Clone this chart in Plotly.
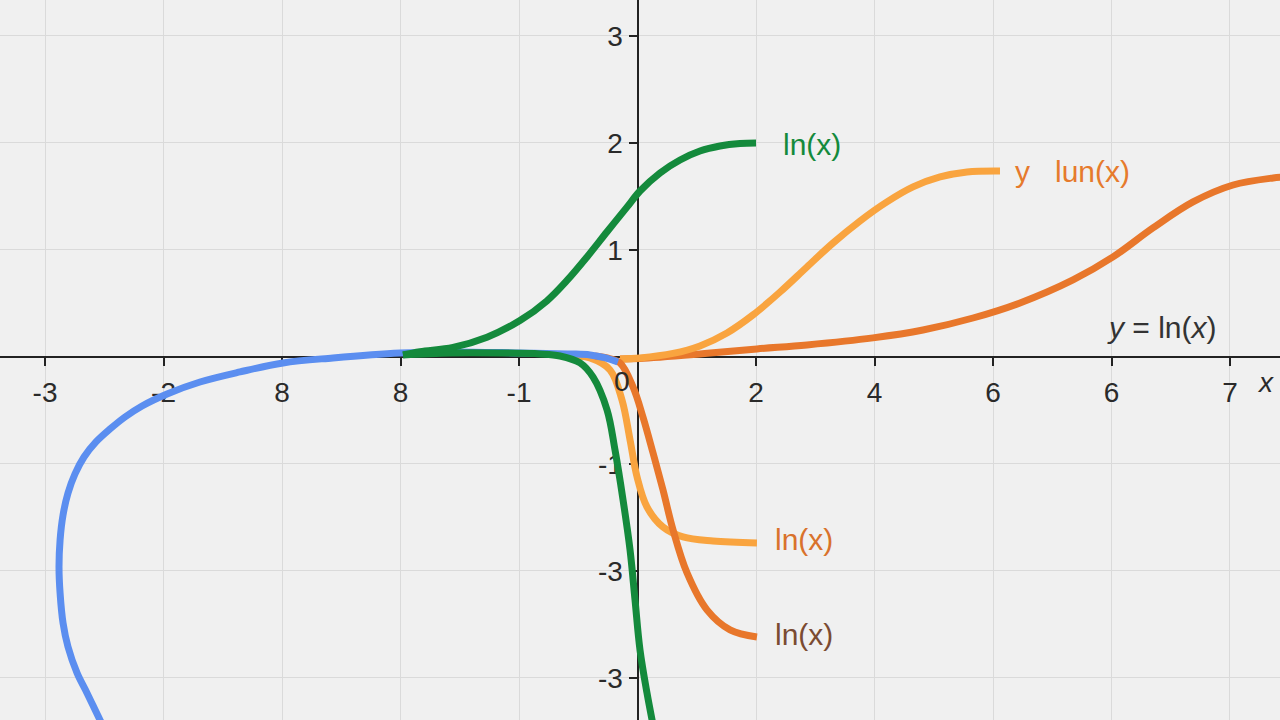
import plotly.graph_objects as go

# ----------------------------
# Curve data (grid units: one grid cell = 1)
# ----------------------------
blue_x = [-4.50, -4.536, -4.646, -4.73, -4.806, -4.848, -4.873, -4.882, -4.873, -4.848, -4.806,
          -4.747, -4.671, -4.57, -4.451, -4.325, -4.181, -3.97, -3.692, -3.354, -2.992,
          -2.57, -2.004, -1.58, -0.99, -0.57, -0.40, -0.27, -0.165]
blue_y = [-3.467, -3.393, -3.14, -2.953, -2.71, -2.486, -2.206, -1.963, -1.71, -1.477, -1.271,
          -1.093, -0.935, -0.794, -0.673, -0.561, -0.458, -0.346, -0.234, -0.14, -0.056,
          -0.009, 0.037, 0.047, 0.037, 0.028, 0.019, -0.009, -0.047]

green_up_x = [-1.979, -1.835, -1.557, -1.27, -0.992, -0.764, -0.595, -0.426, -0.257, -0.089,
              0.021, 0.19, 0.359, 0.527, 0.696, 0.865, 1.0]
green_up_y = [0.019, 0.05, 0.09, 0.185, 0.34, 0.525, 0.715, 0.935, 1.17, 1.40,
              1.551, 1.72, 1.841, 1.925, 1.972, 1.995, 2.0]

green_low_x = [-1.979, -1.582, -1.16, -0.823, -0.654, -0.485, -0.376, -0.257, -0.19, -0.122,
               -0.063, -0.021, 0.021, 0.08, 0.131]
green_low_y = [0.019, 0.037, 0.037, 0.028, 0.009, -0.056, -0.187, -0.495, -0.869, -1.336,
               -1.804, -2.271, -2.738, -3.14, -3.439]

lorange_low_x = [-0.654, -0.527, -0.401, -0.232, -0.131, -0.063, -0.004, 0.08, 0.215, 0.384, 0.637, 1.008]
lorange_low_y = [0.019, 0.009, -0.009, -0.121, -0.402, -0.776, -1.121, -1.402, -1.589, -1.682, -1.72, -1.738]

dorange_low_x = [-0.359, -0.257, -0.148, -0.038, 0.046, 0.131, 0.215, 0.30, 0.418, 0.586, 0.781, 1.008]
dorange_low_y = [0.009, -0.009, -0.056, -0.28, -0.561, -0.897, -1.243, -1.617, -2.019, -2.364, -2.551, -2.617]

lorange_up_x = [-0.148, 0.021, 0.30, 0.527, 0.755, 0.975, 1.203, 1.43, 1.65, 1.878, 2.105,
                2.325, 2.553, 2.781, 3.059]
lorange_up_y = [-0.019, -0.009, 0.033, 0.103, 0.224, 0.393, 0.607, 0.841, 1.065, 1.271, 1.449,
                1.589, 1.682, 1.729, 1.738]

dorange_up_x = [-0.148, 0.021, 0.527, 1.008, 1.43, 1.987, 2.409, 2.831, 3.228, 3.675, 4.013,
                4.35, 4.688, 5.026, 5.364, 5.46]
dorange_up_y = [-0.019, -0.014, 0.028, 0.075, 0.112, 0.178, 0.252, 0.364, 0.505, 0.72, 0.935,
                1.206, 1.449, 1.607, 1.673, 1.682]

# tick labels as printed on the picture
x_tickvals = [-5, -4, -3, -2, -1, 1, 2, 3, 4, 5]
x_ticktext = ['-3', '-2', '8', '8', '-1', '2', '4', '6', '6', '7']
y_tickvals = [-3, -2, -1, 1, 2, 3]
y_ticktext = ['-3', '-3', '-1', '1', '2', '3']

BLUE = '#5b8ef0'
GREEN = '#148a3c'
LORANGE = '#f9a43f'
DORANGE = '#e8772b'
FONT = 'Liberation Sans, Arial, sans-serif'

fig = go.Figure()


def add_curve(x, y, color):
    fig.add_trace(go.Scatter(
        x=x, y=y, mode='lines', line=dict(color=color, width=7, shape='spline', smoothing=1.0),
        hoverinfo='skip', showlegend=False
    ))


add_curve(dorange_up_x, dorange_up_y, DORANGE)
add_curve(lorange_up_x, lorange_up_y, LORANGE)
add_curve(lorange_low_x, lorange_low_y, LORANGE)
add_curve(dorange_low_x, dorange_low_y, DORANGE)
add_curve(blue_x, blue_y, BLUE)
add_curve(green_low_x, green_low_y, GREEN)
add_curve(green_up_x, green_up_y, GREEN)

x_range = [-5.380, 5.422]
y_range = [-3.393, 3.336]

axis_common = dict(
    showgrid=True, gridcolor='#dadada', gridwidth=1,
    zeroline=False, showline=True, linecolor='#222', linewidth=2,
    ticks='outside', ticklen=8, tickwidth=2, tickcolor='#222',
    tickfont=dict(family=FONT, size=28, color='#2a2a2a'),
    anchor='free', layer='below traces',
)

fig.update_xaxes(
    range=x_range, tickvals=x_tickvals, ticktext=x_ticktext,
    position=(0 - y_range[0]) / (y_range[1] - y_range[0]),
    ticklabelstandoff=2, **axis_common
)
fig.update_yaxes(
    range=y_range, tickvals=y_tickvals, ticktext=y_ticktext,
    position=(0 - x_range[0]) / (x_range[1] - x_range[0]),
    ticklabelstandoff=0, **axis_common
)

labels = [
    dict(x=1.211, y=1.981, text='ln(x)', color=GREEN),
    dict(x=3.169, y=1.729, text='y&nbsp;&nbsp; lun(x)', color='#e67a2c'),
    dict(x=1.143, y=-1.71, text='ln(x)', color='#d9722c'),
    dict(x=1.143, y=-2.598, text='ln(x)', color='#7b4b32'),
    dict(x=3.945, y=0.271, text='<i>y</i> = ln(<i>x</i>)', color='#333333'),
]
for lab in labels:
    fig.add_annotation(
        x=lab['x'], y=lab['y'], text=lab['text'], showarrow=False,
        xanchor='left', yanchor='middle',
        font=dict(family=FONT, size=30, color=lab['color'])
    )

# axis name and origin label
fig.add_annotation(x=5.296, y=-0.243, text='<i>x</i>', showarrow=False,
                   font=dict(family=FONT, size=28, color='#2a2a2a'))
fig.add_annotation(x=-0.131, y=-0.234, text='0', showarrow=False,
                   font=dict(family=FONT, size=28, color='#2a2a2a'))

fig.update_layout(
    width=1280, height=720,
    margin=dict(l=0, r=0, t=0, b=0),
    plot_bgcolor='#f0f0f0', paper_bgcolor='#f0f0f0',
    showlegend=False,
)

fig.write_html('out.html', config={'displayModeBar': False},
               post_script="document.body.style.margin='0';")
